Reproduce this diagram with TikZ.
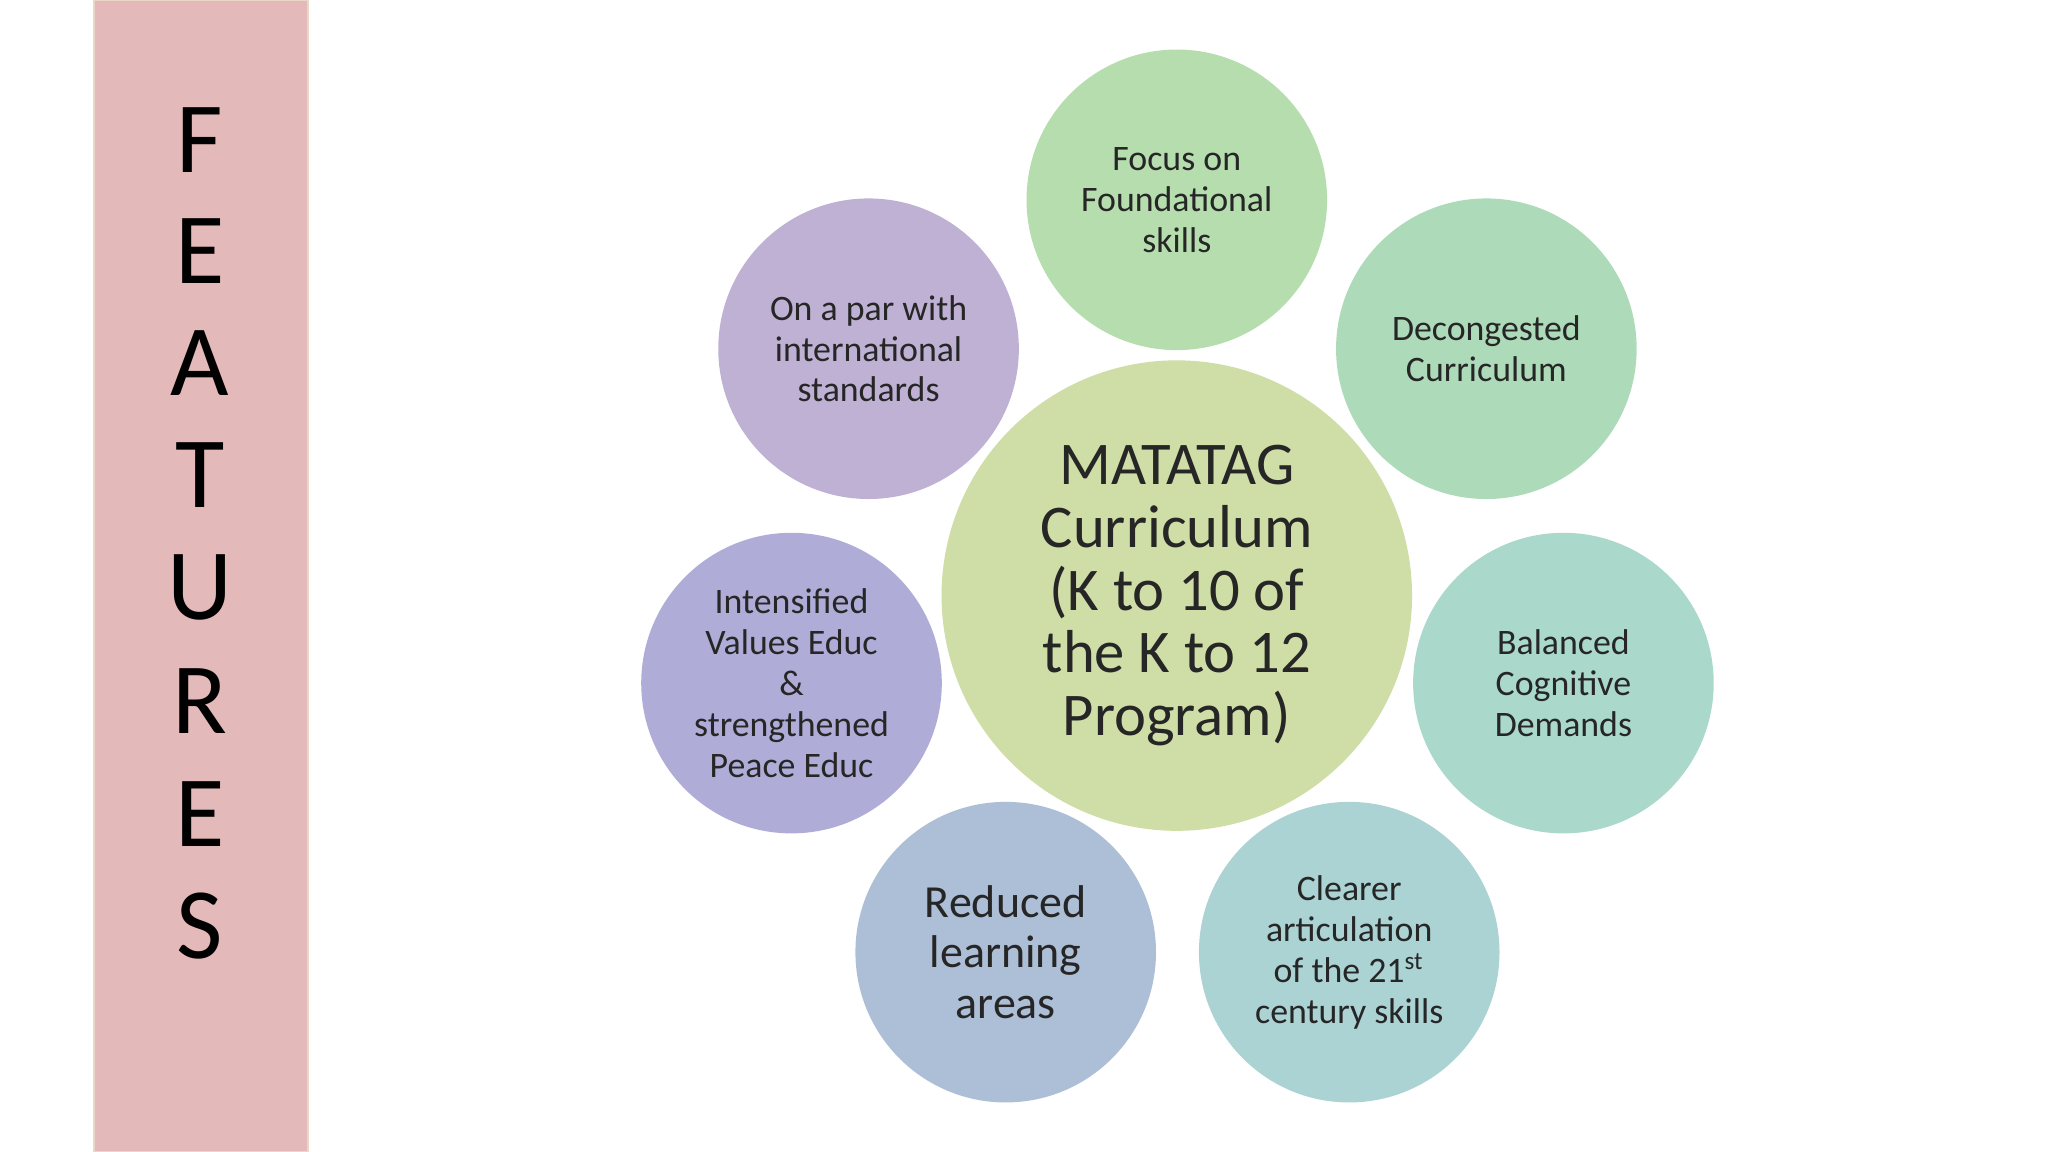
\documentclass[tikz,border=0pt]{standalone}
\usepackage{fontspec}
\setmainfont{Carlito}
\begin{document}
\begin{tikzpicture}[x=0.01cm,y=-0.01cm,
  bub/.style={circle,minimum size=2.3cm,inner sep=0pt,align=center,text=black!85,font=\fontsize{7.8}{8.9}\selectfont},
  letter/.style={font=\fontsize{22}{22}\selectfont,text=black}]
\useasboundingbox (0,0) rectangle (1568,882);
\fill[white] (0,0) rectangle (1568,882);
\node[draw=black!10,fill=red!22!pink!90!brown!60,minimum width=1.64cm,minimum height=8.82cm,inner sep=0pt,fill={rgb,255:red,228;green,185;blue,185},draw={rgb,255:red,235;green,215;blue,200}] (bar) at (154,441) {};
\foreach \l/\y [count=\i] in {F/107,E/192,A/278,T/364,U/450,R/537,E/623,S/709}
  \node[letter] (L\i) at (153,\y) {\l};
\node[bub,fill={rgb,255:red,181;green,221;blue,174}] (focus) at (901,153) {Focus on\\Foundational\\skills};
\node[bub,fill={rgb,255:red,173;green,219;blue,185}] (decon) at (1138,267) {Decongested\\Curriculum};
\node[bub,fill={rgb,255:red,170;green,217;blue,203}] (bal) at (1197,523) {Balanced\\Cognitive\\Demands};
\node[bub,fill={rgb,255:red,171;green,211;blue,212}] (clear) at (1033,729) {Clearer\\articulation\\of the 21\textsuperscript{st}\\century skills};
\node[bub,fill={rgb,255:red,173;green,191;blue,214},font=\fontsize{10}{10.9}\selectfont] (red) at (770,729) {Reduced\\learning\\areas};
\node[bub,fill={rgb,255:red,175;green,173;blue,215}] (int) at (606,523) {Intensified\\Values Educ\\\&\\strengthened\\Peace Educ};
\node[bub,fill={rgb,255:red,191;green,177;blue,212}] (par) at (665,267) {On a par with\\international\\standards};
\node[bub,minimum size=3.6cm,fill={rgb,255:red,207;green,221;blue,166},font=\fontsize{13.2}{13.7}\selectfont] (center) at (901,456) {MATATAG\\Curriculum\\(K to 10 of\\the K to 12\\Program)};
\end{tikzpicture}
\end{document}
